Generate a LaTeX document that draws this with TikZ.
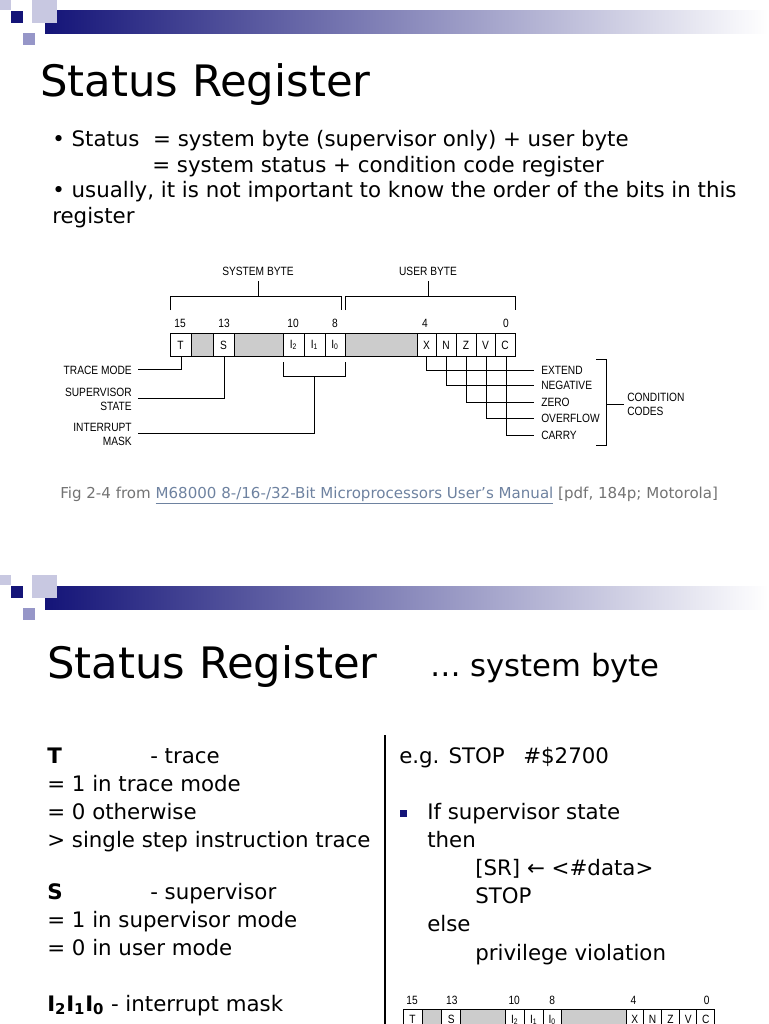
\documentclass[tikz,border=0pt]{standalone}
\usepackage{fontspec}
\setmainfont{DejaVu Sans}
\newfontfamily\diag{Liberation Sans}
\newcommand{\nar}[1]{\scalebox{0.85}[1]{#1}}
\begin{document}
\begin{tikzpicture}[x=0.75pt,y=-0.75pt,
  body/.style={anchor=base west,inner sep=0pt,font=\fontsize{16}{19}\selectfont},
  ttl/.style={anchor=base west,inner sep=0pt,font=\fontsize{32.5}{38}\selectfont},
  dl/.style={inner sep=0pt,font=\diag\fontsize{9}{10}\selectfont},
  ln/.style={line width=0.7pt},
  cell/.style={draw,line width=0.7pt,fill=white},
  gcell/.style={draw,line width=0.7pt,fill=gray!40}]
\useasboundingbox (0,0) rectangle (768,1024);
\clip (0,0) rectangle (768,1024);
\definecolor{navy}{RGB}{20,20,120}
\definecolor{lav}{RGB}{200,200,225}
\definecolor{mlav}{RGB}{150,150,200}
% headers
\foreach \o in {0,575}{
  \shade[left color=navy,right color=white] (45,11+\o) rectangle (768,34+\o);
  \fill[lav] (0,0+\o) rectangle (11,10+\o);
  \fill[lav] (32,0+\o) rectangle (57,23+\o);
  \fill[navy] (11,11+\o) rectangle (23,23+\o);
  \fill[mlav] (23,33+\o) rectangle (35,45+\o);
}
% slide 1 text
\node[ttl] (t1) at (40,97) {Status Register};
\node[body] (l1) at (52,146) {• Status\ \ = system byte (supervisor only) + user byte};
\node[body] (l2) at (152,172) {= system status + condition code register};
\node[body] (l3) at (52,197) {• usually, it is not important to know the order of the bits in this};
\node[body] (l4) at (52,223) {register};
% register macro
\newcommand{\regdraw}{%
  \foreach \a/\b/\s/\t in {170/191/cell/T,191/213/gcell/,213/234/cell/S,234/283/gcell/,283/304/cell/{I\textsubscript{2}},304/325/cell/{I\textsubscript{1}},325/345/cell/{I\textsubscript{0}},345/417/gcell/,417/436/cell/X,436/456/cell/N,456/476/cell/Z,476/495/cell/V,495/515/cell/C}{
    \draw[\s] (\a,333) rectangle (\b,356);
    \node[dl] at ({(\a+\b)/2},345) {\nar{\t}};
  }
  \foreach \x/\n in {180/15,224/13,293/10,335/8,425/4,506/0}{\node[dl] at (\x,323) {\nar{\n}};}
}
\regdraw
\node[dl] (sb) at (258,271) {\nar{SYSTEM BYTE}};
\node[dl] (ub) at (428,271) {\nar{USER BYTE}};
\draw[ln] (170,310) -- (170,296) -- (341,296) -- (341,310) (258,296) -- (258,281);
\draw[ln] (345,310) -- (345,296) -- (515,296) -- (515,310) (428,296) -- (428,281);
% left labels
\node[dl,anchor=east] (tm) at (132,370) {\nar{TRACE MODE}};
\node[dl,anchor=east] (sv) at (132,392) {\nar{SUPERVISOR}};
\node[dl,anchor=east] (st) at (132,406) {\nar{STATE}};
\node[dl,anchor=east] (ir) at (132,427) {\nar{INTERRUPT}};
\node[dl,anchor=east] (mk) at (132,441) {\nar{MASK}};
\draw[ln] (138,369) -- (181,369) -- (181,356);
\draw[ln] (138,398) -- (224,398) -- (224,356);
\draw[ln] (283,362) -- (283,376) -- (345,376) -- (345,362) (314,376) -- (314,433) -- (138,433);
% right
\foreach \x/\y/\l in {426/370/EXTEND,446/385/NEGATIVE,466/402/ZERO,486/418/OVERFLOW,506/435/CARRY}{
  \draw[ln] (\x,356) -- (\x,\y) -- (534,\y);
  \node[dl,anchor=west] at (541,\y) {\nar{\l}};
}
\draw[ln] (596,359) -- (606,359) -- (606,445) -- (596,445) (606,404) -- (624,404);
\node[dl,anchor=west] (cc1) at (627,397) {\nar{CONDITION}};
\node[dl,anchor=west] (cc2) at (627,411) {\nar{CODES}};
% caption
\node[anchor=base west,inner sep=0pt,font=\fontsize{11.3}{13}\selectfont,text=gray!90!black] (cap) at (60,498)
 {Fig 2-4 from \textcolor[RGB]{110,130,160}{\underline{M68000 8-/16-/32-Bit Microprocessors User’s Manual}} [pdf, 184p; Motorola]};
% slide 2
\node[ttl] (t2) at (47,678) {Status Register};
\node[anchor=base west,inner sep=0pt,font=\fontsize{23}{28}\selectfont] (sb2) at (430,676) {… system byte};
\draw[line width=0.8pt] (385,735) -- (385,1024);
\node[body] at (47,763) {\textbf{T}};
\node[body] at (150,763) {- trace};
\node[body] at (47,791) {= 1 in trace mode};
\node[body] at (47,819) {= 0 otherwise};
\node[body] at (47,847) {> single step instruction trace};
\node[body] at (47,899) {\textbf{S}};
\node[body] at (150,899) {- supervisor};
\node[body] at (47,927) {= 1 in supervisor mode};
\node[body] at (47,955) {= 0 in user mode};
\node[body] at (47,1011) {\textbf{I\textsubscript{2}I\textsubscript{1}I\textsubscript{0}} - interrupt mask};
\node[body] at (399,763) {e.g. STOP};
\node[body] at (523,763) {\#\$2700};
\fill[navy] (400,810) rectangle (407,817);
\node[body] at (427,819) {If supervisor state};
\node[body] at (427,847) {then};
\node[body] at (475,875) {[SR] ← <\#data>};
\node[body] at (475,903) {STOP};
\node[body] at (427,931) {else};
\node[body] at (475,960) {privilege violation};
% mini register
\begin{scope}[shift={(403-170*0.904,1009-333*0.904)},scale=0.904]
\regdraw
\end{scope}
\end{tikzpicture}
\end{document}
